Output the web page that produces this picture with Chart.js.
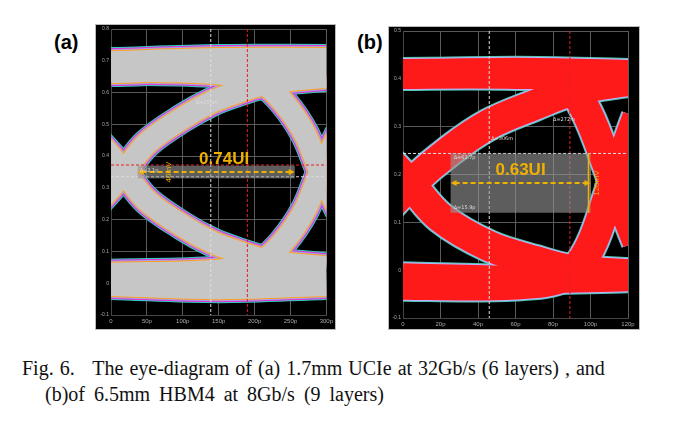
<!DOCTYPE html>
<html lang="en">
<head>
<meta charset="UTF-8">
<title>Eye diagrams</title>
<script src="https://cdn.jsdelivr.net/npm/chart.js"></script>
<style>
  body { margin: 0; width: 683px; height: 424px; background: #fff; position: relative; overflow: hidden; }
  .panel { position: absolute; }
  .tag { position: absolute; font: bold 20px "Liberation Sans", Arial, sans-serif; }
  .cap { position: absolute; font: 20px "Liberation Serif", "Times New Roman", serif; color: #111; white-space: nowrap; word-spacing: 1px; }
</style>
</head>
<body>
<div class="tag" style="left:54px;top:31px">(a)</div>
<div class="tag" style="left:357px;top:31px">(b)</div>
<div class="panel" style="left:95px;top:24px;width:241px;height:306px"><canvas id="eyeA"></canvas></div>
<div class="panel" style="left:388px;top:26px;width:252px;height:304px"><canvas id="eyeB"></canvas></div>
<div class="cap" style="left:22px;top:357px">Fig. 6.&nbsp;&nbsp; The eye-diagram of (a) 1.7mm UCIe at 32Gb/s (6 layers) , and</div>
<div class="cap" style="left:45px;top:383px;word-spacing:4px">(b)of 6.5mm HBM4 at 8Gb/s (9 layers)</div>

<script>
// ---- panel (a) data: 1.7mm UCIe, 32Gb/s ----
const aTicksX = ['0', '50p', '100p', '150p', '200p', '250p', '300p'];
const aTicksY = ['-0.1', '0', '0.1', '0.2', '0.3', '0.4', '0.5', '0.6', '0.7', '0.8'];
const aRailTop = [[0, 0.68], [150, 0.69], [300, 0.69]];
const aRailBot = [[0, 0.01], [150, 0.0], [300, 0.01]];
const aRiseL = [[-20, 0.25], [0, 0.30], [18, 0.35], [50, 0.44], [100, 0.52], [140, 0.57], [175, 0.60], [220, 0.63], [300, 0.65]];
const aFallL = [[-20, 0.45], [0, 0.40], [18, 0.35], [50, 0.26], [100, 0.18], [140, 0.13], [175, 0.10], [220, 0.07], [300, 0.05]];
const aFallR = [[0, 0.67], [150, 0.66], [210, 0.63], [240, 0.57], [270, 0.47], [292, 0.35], [320, 0.22]];
const aRiseR = [[0, 0.03], [150, 0.04], [210, 0.07], [240, 0.13], [270, 0.23], [292, 0.35], [320, 0.48]];
const aMarkX = [139, 190];      // white, red cursors
const aMarkY = [0.335, 0.372];  // white, red cursors
const aBox = [37, 256, 0.33, 0.37];
const aLabel = '0.74UI', aHeight = '40mV';

// ---- panel (b) data: 6.5mm HBM4, 8Gb/s ----
const bTicksX = ['0', '20p', '40p', '60p', '80p', '100p', '120p'];
const bTicksY = ['-0.1', '0', '0.1', '0.2', '0.3', '0.4', '0.5'];
const bRailTop = [[0, 0.41], [60, 0.415], [120, 0.41]];
const bRailBot = [[0, -0.015], [60, -0.02], [120, -0.015]];
const bRiseL = [[-15, 0.10], [4, 0.18], [25, 0.25], [46, 0.305], [70, 0.345], [90, 0.375], [110, 0.39], [130, 0.40]];
const bFallL = [[-15, 0.26], [4, 0.18], [20, 0.11], [46, 0.05], [70, 0.02], [90, 0.0], [130, -0.01]];
const bFallR = [[-10, 0.41], [60, 0.41], [85, 0.40], [98, 0.33], [111, 0.20], [125, 0.06]];
const bRiseR = [[-10, -0.03], [60, -0.03], [88, -0.01], [100, 0.05], [111, 0.17], [125, 0.32]];
const bMarkX = [46, 89];
const bMarkY = [0.244];
const bBox = [25.4, 100, 0.12, 0.244];
const bLabel = '0.63UI', bHeight = '120mV';

function pts(arr) { return arr.map(p => ({ x: p[0], y: p[1] })); }
function line(arr, color, width) {
  return { data: pts(arr), borderColor: color, borderWidth: width,
           pointRadius: 0, tension: 0.35, fill: false, borderCapStyle: 'butt' };
}

const markers = {
  id: 'markers',
  beforeDraw(chart) {
    const c = chart.ctx, a = chart.chartArea;
    c.save();
    c.fillStyle = '#000';
    c.fillRect(0, 0, chart.width, chart.height);
    c.strokeStyle = '#bbb'; c.lineWidth = 1;
    c.strokeRect(0.5, 0.5, chart.width - 1, chart.height - 1);
    c.restore();
  },
  afterDatasetsDraw(chart) {
    const o = chart.options.plugins.markers, c = chart.ctx, a = chart.chartArea;
    const sx = chart.scales.x, sy = chart.scales.y;
    c.save();
    c.beginPath(); c.rect(a.left, a.top, a.right - a.left, a.bottom - a.top); c.clip();
    // cursors: last one in each list is red unless whiteH
    c.lineWidth = 1; c.setLineDash([3, 2]);
    o.markX.forEach((v, i) => {
      c.strokeStyle = i === o.markX.length - 1 ? '#e02020' : '#ddd';
      const px = sx.getPixelForValue(v);
      c.beginPath(); c.moveTo(px, a.top); c.lineTo(px, a.bottom); c.stroke();
    });
    o.markY.forEach((v, i) => {
      c.strokeStyle = (!o.whiteH && i === o.markY.length - 1) ? '#e02020' : '#ddd';
      const py = sy.getPixelForValue(v);
      c.beginPath(); c.moveTo(a.left, py); c.lineTo(a.right, py); c.stroke();
    });
    // measurement box
    const x0 = sx.getPixelForValue(o.box[0]), x1 = sx.getPixelForValue(o.box[1]);
    const y0 = sy.getPixelForValue(o.box[3]), y1 = sy.getPixelForValue(o.box[2]);
    c.setLineDash([]);
    c.fillStyle = 'rgba(150,150,150,0.62)';
    c.fillRect(x0, y0, x1 - x0, y1 - y0);
    // width arrow
    const ym = (y0 + y1) / 2;
    c.strokeStyle = '#f0b000'; c.lineWidth = 2; c.setLineDash([5, 3]);
    c.beginPath(); c.moveTo(x0 + 4, ym); c.lineTo(x1 - 4, ym); c.stroke();
    c.setLineDash([]); c.fillStyle = '#f0b000';
    c.beginPath(); c.moveTo(x0, ym); c.lineTo(x0 + 6, ym - 3); c.lineTo(x0 + 6, ym + 3); c.fill();
    c.beginPath(); c.moveTo(x1, ym); c.lineTo(x1 - 6, ym - 3); c.lineTo(x1 - 6, ym + 3); c.fill();
    // height arrow
    const xh = o.heightAt === 'right' ? x1 - 2 : x0 + (x1 - x0) * 0.2;
    if (o.heightAt === 'right') {
      c.strokeStyle = '#f0b000'; c.lineWidth = 1.5;
      c.beginPath(); c.moveTo(xh, y0); c.lineTo(xh, y1); c.stroke();
    }
    c.font = 'bold 17px "Liberation Sans", Arial, sans-serif';
    c.textAlign = 'center'; c.textBaseline = 'bottom';
    c.fillText(o.label, (x0 + x1) / 2 + o.labelDx, ym - 4);
    c.save();
    c.translate(xh + (o.heightAt === 'right' ? 8 : 0), ym);
    c.rotate(-Math.PI / 2);
    c.font = '8px "Liberation Sans", Arial, sans-serif'; c.textBaseline = 'middle';
    c.fillText(o.height, 0, 0);
    c.restore();
    c.fillStyle = '#ddd'; c.font = '5px "DejaVu Sans", sans-serif'; c.textAlign = 'left';
    o.notes.forEach(n => c.fillText(n[2], sx.getPixelForValue(n[0]), sy.getPixelForValue(n[1])));
    c.restore();
  }
};

// Chart.js paints dataset 0 last (on top): main bands first, then fringes inner to outer
function makeEye(id, ticksX, ticksY, xMax, yMin, yMax, bands, rails, main, fringe, bw, rw, opts, pad) {
  const all = rails.concat(bands);
  const wOf = b => rails.includes(b) ? rw : bw;
  const ds = all.map(b => line(b, main, wOf(b)));
  fringe.forEach((f, i) => all.forEach(b => ds.push(line(b, f, wOf(b) + (i + 1) * 2))));
  new Chart(document.getElementById(id), {
    type: 'line',
    data: { datasets: ds },
    options: {
      responsive: true, maintainAspectRatio: false, animation: false,
      layout: { padding: pad.p },
      plugins: { legend: { display: false }, tooltip: { enabled: false }, markers: opts },
      scales: {
        x: {
          type: 'linear', min: 0, max: xMax,
          afterFit: s => { s.height = pad.xh; },
          grid: { color: '#5a5a5a', borderDash: [1, 2], drawTicks: false },
          border: { color: '#444' },
          ticks: { stepSize: xMax / 6, color: '#aaa', font: { size: 6 }, padding: 3,
                   callback: (v, i) => ticksX[i] }
        },
        y: {
          min: yMin, max: yMax,
          afterFit: s => { s.width = pad.yw; },
          grid: { color: '#5a5a5a', borderDash: [1, 2], drawTicks: false },
          border: { color: '#444' },
          ticks: { stepSize: 0.1, color: '#aaa', font: { size: 5 }, padding: 2,
                   callback: (v, i) => ticksY[i] }
        }
      }
    },
    plugins: [markers]
  });
}

makeEye('eyeA', aTicksX, aTicksY, 300, -0.1, 0.8,
  [aRiseL, aFallL, aFallR, aRiseR], [aRailTop, aRailBot],
  '#c6c6c6', ['#ffa020', '#a8a0f0', '#e030d0', '#30d0c0'], 22, 32,
  { markX: aMarkX, markY: aMarkY, box: aBox, label: aLabel, height: aHeight,
    heightAt: 'left', labelDx: 8, notes: [[118, 0.56, 'Δ=255m'], [40, 0.345, 'Δ=2.1p']] },
  { p: { top: 4, right: 3, left: 0, bottom: 0 }, xh: 15, yw: 16 });

makeEye('eyeB', bTicksX, bTicksY, 120, -0.1, 0.5,
  [bRiseL, bFallL, bFallR, bRiseR], [bRailTop, bRailBot],
  '#ff1a1a', ['#c0b0ff', '#50c8b0'], 30, 28,
  { markX: bMarkX, markY: bMarkY, whiteH: true, box: bBox, label: bLabel, height: bHeight,
    heightAt: 'right', labelDx: 0, notes: [[47, 0.27, 'Δ=306m'], [80, 0.31, 'Δ=272m'], [27, 0.23, 'Δ=61.7p'], [27, 0.125, 'Δ=15.9p']] },
  { p: { top: 2, right: 12, left: 0, bottom: 0 }, xh: 12, yw: 15 });
</script>
</body>
</html>
